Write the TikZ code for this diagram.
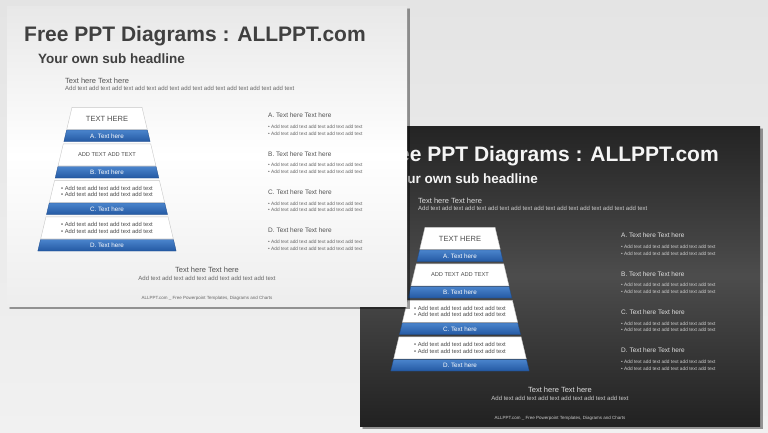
\documentclass[tikz,border=0pt]{standalone}
\usepackage{fontspec}
\setmainfont{Liberation Sans}
\definecolor{bgtop}{HTML}{E4E4E4}
\definecolor{bgbot}{HTML}{F1F1F1}
\definecolor{bluetop}{HTML}{4A84CC}
\definecolor{bluebot}{HTML}{2459A3}
\colorlet{titlecol}{black}
\colorlet{bodycol}{black}
\colorlet{smallcol}{black}
\tikzset{
  lightslide/.style={top color=black!9, bottom color=black!7, middle color=white},
  darkslide/.style={top color=black!86, bottom color=black!87, middle color=black!70},
  txt/.style={inner sep=0pt, anchor=base west},
  ttl/.style={txt, font=\fontsize{21}{24}\selectfont\bfseries, text=titlecol},
  subttl/.style={txt, font=\fontsize{13.5}{16}\selectfont\bfseries, text=titlecol},
  hdr/.style={txt, font=\fontsize{7.5}{9}\selectfont, text=bodycol},
  hdrsmall/.style={txt, font=\fontsize{6}{7}\selectfont, text=smallcol},
  coltitle/.style={txt, font=\fontsize{6.5}{8}\selectfont, text=bodycol},
  colbullet/.style={txt, font=\fontsize{4.8}{6}\selectfont, text=smallcol},
  foot/.style={inner sep=0pt, anchor=base, font=\fontsize{4.5}{5}\selectfont, text=smallcol},
  ctrhdr/.style={inner sep=0pt, anchor=base, font=\fontsize{7.5}{9}\selectfont, text=bodycol},
  ctrsmall/.style={inner sep=0pt, anchor=base, font=\fontsize{6}{7}\selectfont, text=smallcol},
  whitebox/.style={fill=white, draw=black!22, line width=0.4pt},
  bluebar/.style={top color=bluetop, bottom color=bluebot, draw=bluebot!85!black, line width=0.3pt},
  pytext/.style={inner sep=0pt, align=center, text=black!70},
  barlabel/.style={inner sep=0pt, font=\fontsize{6.3}{7}\selectfont, text=white},
}
\newcommand\trapez[3]{%
  \pgfmathsetmacro\tzTL{100-(35+0.238*(#1-101.3))}%
  \pgfmathsetmacro\tzTR{100+(35+0.238*(#1-101.3))}%
  \pgfmathsetmacro\tzBL{100-(35+0.238*(#2-101.3))}%
  \pgfmathsetmacro\tzBR{100+(35+0.238*(#2-101.3))}%
  \path[#3] (\tzTL,#1) -- (\tzTR,#1) -- (\tzBR,#2) -- (\tzBL,#2) -- cycle;%
}
\newcommand\slidecontent[1]{%
  \fill[black, opacity=0.18] (1.5,1.5) rectangle (402.5,302.5);
  \fill[black, opacity=0.25] (3,3) rectangle (403,303);
  \path[#1] (0,0) rectangle (400,300);
  \node[ttl] (title) at (17,35.7) {Free PPT Diagrams : ALLPPT.com};
  \node[subttl] (sub) at (31,57) {Your own sub headline};
  \node[hdr] (hdr) at (58,77) {Text here Text here};
  \node[hdrsmall] (hdrtext) at (58,84.5) {Add text add text add text add text add text add text add text add text add text add text};
  \foreach \i/\lbl in {0/A,1/B,2/C,3/D} {
    \pgfmathsetmacro\wtop{101.3+36.5*\i}
    \pgfmathsetmacro\wbot{\wtop+22}
    \pgfmathsetmacro\btop{\wtop+22.7}
    \pgfmathsetmacro\bbot{\btop+11.5}
    \trapez{\wtop}{\wbot}{whitebox}
    \trapez{\btop}{\bbot}{bluebar}
    \node[barlabel] (bar\lbl) at (100,{\btop+5.9}) {\lbl. Text here};
  }
  \node[pytext, font=\fontsize{7.5}{8}\selectfont] (w0) at (100,112.5) {TEXT HERE};
  \node[pytext, font=\fontsize{5.7}{6.5}\selectfont] (w1) at (100,149) {ADD TEXT ADD TEXT};
  \node[pytext, font=\fontsize{5.8}{6.6}\selectfont] (w2) at (100,185.5) {• Add text add text add text add text\\• Add text add text add text add text};
  \node[pytext, font=\fontsize{5.8}{6.6}\selectfont] (w3) at (100,222) {• Add text add text add text add text\\• Add text add text add text add text};
  \foreach \i/\lbl in {0/A,1/B,2/C,3/D} {
    \pgfmathsetmacro\yy{111.7+38.4*\i}
    \node[coltitle] (ct\lbl) at (261,\yy) {\lbl. Text here Text here};
    \node[colbullet] (cb\lbl) at (261,{\yy+10.6}) {• Add text add text add text add text add text};
    \node[colbullet] (cc\lbl) at (261,{\yy+17.3}) {• Add text add text add text add text add text};
  }
  \node[ctrhdr] (bot) at (200,266.3) {Text here Text here};
  \node[ctrsmall] (bottext) at (200,274.7) {Add text add text add text add text add text add text};
  \node[foot] (footer) at (200,293.3) {ALLPPT.com \_ Free Powerpoint Templates, Diagrams and Charts};
}
\begin{document}
\begin{tikzpicture}[x=1pt,y=-1pt]
\useasboundingbox (0,0) rectangle (768,432);
\shade[top color=bgtop, bottom color=bgbot] (0,0) rectangle (768,432);
\begin{scope}[shift={(360,126)}, name prefix=R-]
  \colorlet{titlecol}{white!96!black}
  \colorlet{bodycol}{white!88!black}
  \colorlet{smallcol}{white!80!black}
  \slidecontent{darkslide}
\end{scope}
\begin{scope}[shift={(7,6)}, name prefix=L-]
  \colorlet{titlecol}{black!75}
  \colorlet{bodycol}{black!68}
  \colorlet{smallcol}{black!60}
  \slidecontent{lightslide}
\end{scope}
\end{tikzpicture}
\end{document}
